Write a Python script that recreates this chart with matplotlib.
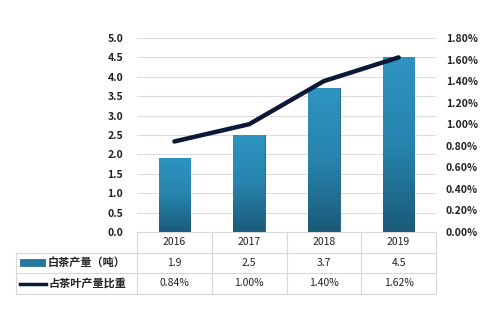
import numpy as np
import matplotlib.pyplot as plt
from matplotlib.patches import Rectangle
from matplotlib.lines import Line2D
from matplotlib.colors import LinearSegmentedColormap

plt.rcParams['font.family'] = ['Noto Sans CJK SC', 'DejaVu Sans']

years = ['2016', '2017', '2018', '2019']
output = [1.9, 2.5, 3.7, 4.5]          # 白茶产量（吨）
share = [0.84, 1.00, 1.40, 1.62]       # 占茶叶产量比重 (%)
bar_name = '白茶产量（吨）'
line_name = '占茶叶产量比重'

fig = plt.figure(figsize=(4.98, 3.24), dpi=100)
ax = fig.add_axes([137/498, 1-232/324, 299/498, 194/324])
ax2 = ax.twinx()

x = np.arange(len(years))
bars = ax.bar(x, output, width=0.42, color='#2379a0', edgecolor='#1b5d7c', linewidth=0.6, zorder=2)

# vertical gradient inside bars
grad = np.linspace(0, 1, 256).reshape(-1, 1)
cmap = LinearSegmentedColormap.from_list('b', ['#1a5a79', '#2784ad', '#2e94c0'])
for b in bars:
    im = ax.imshow(grad, cmap=cmap, aspect='auto', origin='lower',
                   extent=[b.get_x(), b.get_x()+b.get_width(), 0, b.get_height()], zorder=2.5)
    im.set_clip_path(b)

ax.set_xlim(-0.5, 3.5)
ax.set_ylim(0, 5)
ax.set_yticks(np.arange(0, 5.01, 0.5))
ax.set_yticklabels(['%.1f' % v for v in np.arange(0, 5.01, 0.5)])
ax.grid(axis='y', color='#dddddd', linewidth=0.8, zorder=0)
ax.set_axisbelow(True)
ax.set_xticks([])

ax2.plot(x, share, color='#0c1838', linewidth=3.2, solid_capstyle='round', zorder=5)
ax2.set_ylim(0, 1.8)
ax2.set_yticks(np.arange(0, 1.81, 0.2))
ax2.set_yticklabels(['%.2f%%' % v for v in np.arange(0, 1.81, 0.2)])

for a in (ax, ax2):
    for s in a.spines.values():
        s.set_visible(False)
    a.tick_params(length=0, labelsize=7.5, colors='#222222')
ax.tick_params(axis='y', pad=10)
ax2.tick_params(axis='y', pad=7)
for lbl in ax.get_yticklabels() + ax2.get_yticklabels():
    lbl.set_fontweight('bold')

# data table under the plot
W, H = 498.0, 324.0
def fx(px):
    return px / W
def fy(py):
    return 1 - py / H

cols = [137, 211.75, 286.5, 361.25, 436]
rows = [232, 252.5, 273, 294]
gc = '#d8d8d8'
for c in cols:
    fig.add_artist(Line2D([fx(c), fx(c)], [fy(rows[0]), fy(rows[3])], color=gc, lw=0.8))
fig.add_artist(Line2D([fx(16), fx(16)], [fy(rows[1]), fy(rows[3])], color=gc, lw=0.8))
fig.add_artist(Line2D([fx(137), fx(436)], [fy(rows[0]), fy(rows[0])], color=gc, lw=0.8))
for r in rows[1:]:
    fig.add_artist(Line2D([fx(16), fx(436)], [fy(r), fy(r)], color=gc, lw=0.8))

for i, yr in enumerate(years):
    cx = (cols[i] + cols[i+1]) / 2
    fig.text(fx(cx), fy((rows[0]+rows[1])/2), yr, ha='center', va='center', fontsize=7.5, color='#222222')
    fig.text(fx(cx), fy((rows[1]+rows[2])/2), '%.1f' % output[i], ha='center', va='center', fontsize=7.5, color='#222222')
    fig.text(fx(cx), fy((rows[2]+rows[3])/2), '%.2f%%' % share[i], ha='center', va='center', fontsize=7.5, color='#222222')

# legend keys in the table
fig.add_artist(Rectangle((fx(20), fy(266)), fx(25), 7/H, facecolor='#2379a0', edgecolor='#1b5d7c', lw=0.5))
fig.add_artist(Line2D([fx(20), fx(46)], [fy(283.5), fy(283.5)], color='#0c1838', lw=2.5))
fig.text(fx(48), fy((rows[1]+rows[2])/2), bar_name, ha='left', va='center', fontsize=8, fontweight='bold', color='#222222')
fig.text(fx(48), fy((rows[2]+rows[3])/2), line_name, ha='left', va='center', fontsize=8, fontweight='bold', color='#222222')

fig.savefig('out.png', dpi=100, facecolor='white')
